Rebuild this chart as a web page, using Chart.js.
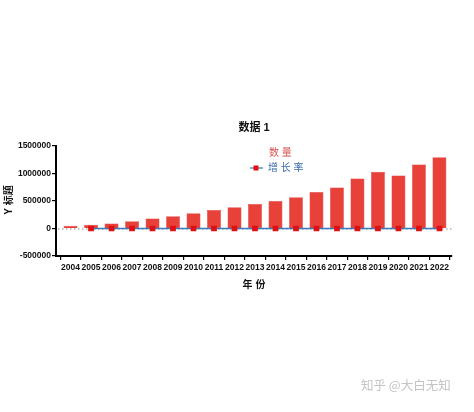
<!DOCTYPE html>
<html><head><meta charset="utf-8">
<script src="https://cdn.jsdelivr.net/npm/chart.js@4/dist/chart.umd.min.js"></script>
<style>html,body{margin:0;padding:0;background:#fff;}#wrap{width:474px;height:412px;}</style>
</head><body><div id="wrap"><canvas id="c" width="474" height="412"></canvas></div>
<script>
const years = ['2004','2005','2006','2007','2008','2009','2010','2011','2012','2013','2014','2015','2016','2017','2018','2019','2020','2021','2022'];
const quantity = [48000,66000,90000,133000,181000,223000,277000,337000,386000,446000,500000,566000,663000,747000,910000,1030000,964000,1163000,1295000];
const growth = [null,0.38,0.36,0.48,0.36,0.23,0.24,0.22,0.15,0.16,0.12,0.13,0.17,0.13,0.22,0.13,-0.06,0.21,0.11];
const yTicks = [-500000,0,500000,1000000,1500000];
const titleText = '数据 1';
const yTitle = 'Y 标题';
const xTitle = '年 份';
const watermark = '知乎 @大白无知';

const FONT = '"Liberation Sans", Arial, "Noto Sans CJK SC", sans-serif';

const inset = {
  id: 'inset',
  afterLayout(chart) {
    const x = chart.scales.x;
    x._startPixel = chart.chartArea.left + 4.3;
    x._length = (chart.chartArea.right - 2.3) - x._startPixel;
  }
};

const deco = {
  id: 'deco',
  beforeDatasetsDraw(chart) {
    const {ctx, chartArea: a, scales: {y}} = chart;
    const y0 = y.getPixelForValue(0);
    ctx.save();
    ctx.strokeStyle = '#888';
    ctx.lineWidth = 1;
    ctx.setLineDash([1.5, 2.5]);
    ctx.beginPath(); ctx.moveTo(a.left + 2, y0 + 0.5); ctx.lineTo(a.right, y0 + 0.5); ctx.stroke();
    ctx.restore();
  },
  afterDraw(chart) {
    const {ctx} = chart;
    ctx.save();
    ctx.textAlign = 'center'; ctx.textBaseline = 'middle';
    ctx.fillStyle = '#111';
    ctx.font = 'bold 11px ' + FONT;
    ctx.fillText(titleText, 254, 128);
    ctx.font = 'bold 10px ' + FONT;
    ctx.fillText(xTitle, 254, 285);
    ctx.save();
    ctx.translate(9, 200); ctx.rotate(-Math.PI / 2);
    ctx.fillText(yTitle, 0, 0);
    ctx.restore();
    // legend
    const ds = chart.data.datasets;
    ctx.font = '10px ' + FONT;
    ctx.textAlign = 'left';
    ctx.fillStyle = '#d9534f';
    ctx.fillText(ds[0].label.split('').join(' '), 269, 153);
    ctx.strokeStyle = '#3a7bbf'; ctx.lineWidth = 1.2;
    ctx.beginPath(); ctx.moveTo(250, 168); ctx.lineTo(263, 168); ctx.stroke();
    ctx.fillStyle = '#e01010';
    ctx.fillRect(253.5, 165.5, 5, 5);
    ctx.fillStyle = '#3a6ea8';
    ctx.fillText(ds[1].label.split('').join(' '), 268, 168.5);
    // watermark
    ctx.fillStyle = '#c4c4c4';
    ctx.font = '12.5px "Noto Sans CJK SC", sans-serif';
    ctx.textAlign = 'left';
    ctx.fillText(watermark, 361, 385);
    ctx.restore();
  }
};

new Chart(document.getElementById('c'), {
  data: {
    labels: years,
    datasets: [
      { type: 'bar', label: '数量', data: quantity, backgroundColor: '#e8413a', borderColor: '#d63a33', borderWidth: 0.5,
        barPercentage: 0.68, categoryPercentage: 1, order: 2 },
      { type: 'line', label: '增长率', data: growth, borderColor: '#3a7bbf', borderWidth: 1.5,
        pointStyle: 'rect', pointRadius: 3, pointBackgroundColor: '#e01010', pointBorderColor: '#e01010',
        spanGaps: false, order: 1 }
    ]
  },
  options: {
    responsive: false, animation: false, devicePixelRatio: 1,
    layout: { padding: { left: 0, right: 22, top: 146, bottom: 0 } },
    plugins: { legend: { display: false }, tooltip: { enabled: false }, title: { display: false } },
    scales: {
      x: {
        afterFit: s => { s.height = 156; },
        grid: { display: true, drawOnChartArea: false, drawTicks: true, tickLength: 4, color: '#000', lineWidth: 1.2 },
        border: { display: true, color: '#000', width: 2 },
        ticks: { color: '#111', font: { family: FONT, size: 8.5, weight: 'bold' }, padding: 3, maxRotation: 0, autoSkip: false }
      },
      y: {
        min: -500000, max: 1500000,
        afterFit: s => { s.width = 56; },
        afterBuildTicks: s => { s.ticks = yTicks.map(v => ({ value: v })); },
        grid: { display: true, drawOnChartArea: false, drawTicks: true, tickLength: 4, color: '#000', lineWidth: 1.2 },
        border: { display: true, color: '#000', width: 2 },
        ticks: { color: '#111', font: { family: FONT, size: 8.5, weight: 'bold' }, padding: 1, callback: v => String(v) }
      }
    }
  },
  plugins: [inset, deco]
});
</script></body></html>
